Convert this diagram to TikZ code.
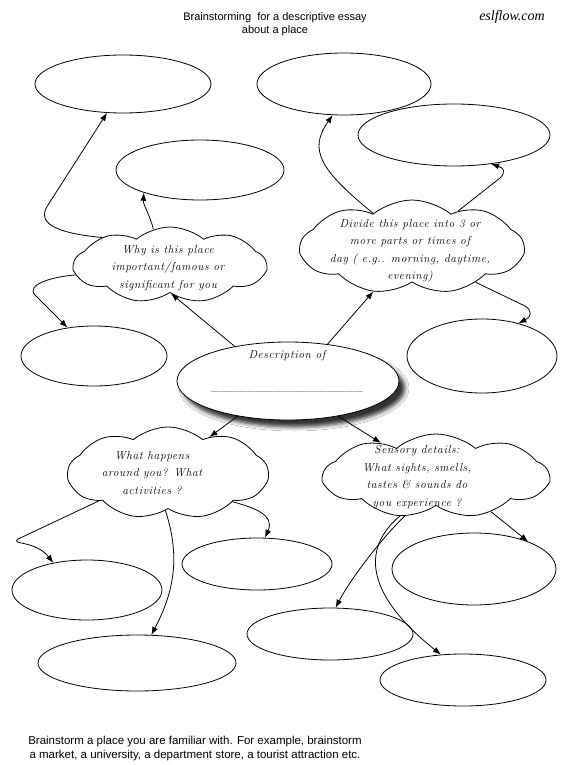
\documentclass[tikz,border=0pt]{standalone}
\usepackage{fontspec}
\setmainfont{Liberation Sans}
\newfontfamily\hand[LetterSpace=5]{Latin Modern Roman}
\newfontfamily\logofont{Liberation Serif}
\usetikzlibrary{shapes.geometric,shapes.symbols,arrows.meta,shadows.blur}
\begin{document}
\begin{tikzpicture}[x=1pt,y=-1pt,
  oval/.style={ellipse, draw, line width=0.8pt, fill=white, inner sep=0pt},
  cloudbox/.style={cloud, draw, line width=0.8pt, fill=white, cloud puffs=9, cloud puff arc=80, cloud ignores aspect, inner sep=0pt},
  handtext/.style={font=\hand\itshape\fontsize{11.5}{17.5}\selectfont, align=center, inner sep=0pt},
  conn/.style={line width=0.8pt, -{Latex[length=8pt,width=6pt]}},
]
\fill[white] (0,0) rectangle (568,765);
\useasboundingbox (0,0) rectangle (568,765);

% titles
\node[font=\fontsize{11}{13.5}\selectfont, align=center] (title) at (275,24) {Brainstorming\ \ for a descriptive essay\\about a place};
\node[font=\logofont\itshape\fontsize{14}{16}\selectfont] (logo) at (512,17) {eslflow.com};
\node[font=\fontsize{11.5}{14}\selectfont, align=center] (note) at (195,749) {Brainstorm a place you are familiar with. For example, brainstorm\\ a market, a university, a department store, a tourist attraction etc.};

% answer ovals
\node[oval, minimum width=176pt, minimum height=58pt] (e1) at (123,84) {};
\node[oval, minimum width=174pt, minimum height=62pt] (e2) at (344,84) {};
\node[oval, minimum width=168pt, minimum height=60pt] (e3) at (200,170) {};
\node[oval, minimum width=192pt, minimum height=62pt] (e4) at (454,135) {};
\node[oval, minimum width=146pt, minimum height=60pt] (e5) at (94,356) {};
\node[oval, minimum width=150pt, minimum height=74pt] (e6) at (482,356) {};
\node[oval, minimum width=150pt, minimum height=60pt] (e8) at (87,590) {};
\node[oval, minimum width=150pt, minimum height=52pt] (e9) at (257,564) {};
\node[oval, minimum width=198pt, minimum height=56pt] (e10) at (137,663) {};
\node[oval, minimum width=164pt, minimum height=72pt] (e11) at (474,569) {};
\node[oval, minimum width=166pt, minimum height=52pt] (e12) at (330,634) {};
\node[oval, minimum width=166pt, minimum height=52pt] (e13) at (463,680) {};

% central oval
\node[oval, minimum width=222pt, minimum height=78pt,
  blur shadow={shadow xshift=6pt, shadow yshift=-7pt, shadow blur radius=4pt, shadow opacity=80}] (ctr) at (288,381) {};
\node[handtext] (ctrtext) at (287,356) {Description of};
\node[handtext] (ctrline) at (287,391) {\_\_\_\_\_\_\_\_\_\_\_\_\_\_\_\_\_};

% clouds
\node[cloudbox, minimum width=192pt, minimum height=76pt] (cA) at (170,265) {};
\node[handtext] (tA) at (168,268) {Why is this place\\important/famous or\\significant for you};
\node[cloudbox, minimum width=223pt, minimum height=94pt] (cB) at (412,247) {};
\node[handtext] (tB) at (410,251) {Divide this place into 3 or\\more parts or times of\\day ( e.g.. morning, daytime,\\evening)};
\node[cloudbox, minimum width=200pt, minimum height=92pt] (cC) at (168,473) {};
\node[handtext] (tC) at (152,473) {What happens\\around you? What\\activities ?};
\node[cloudbox, minimum width=225pt, minimum height=84pt] (cD) at (436,476) {};
\node[handtext] (tD) at (417,477) {Sensory details:\\What sights, smells,\\tastes \& sounds do\\you experience ?};

% central connectors
\draw[conn] (ctr.147) -- (cA.272);
\draw[conn] (ctr.43) -- (cB.229);
\draw[conn] (ctr.215) -- (cC.41);
\draw[conn] (ctr.325) -- (cD.149);

% cloud A
\draw[conn] (cA.158) .. controls (55,233) and (36,223) .. (48,205) -- (e1.241);
\draw[conn] (cA.115) .. controls (150,215) and (143,205) .. (e3.202);
\draw[conn] (cA.186) .. controls (50,277) and (26,285) .. (35,295) -- (e5.133);

% cloud B
\draw[conn] (cB.139) .. controls (320,170) and (308,150) .. (e2.250);
\draw[conn] (cB.38) -- (500,178) .. controls (506,172) and (504,168) .. (e4.322);
\draw[conn] (cB.331) -- (525,306) .. controls (533,311) and (531,317) .. (e6.42);

% cloud C
\draw[conn] (cC.202) -- (18,539) .. controls (10,545) and (35,540) .. (e8.141);
\draw[conn] (cC.266) .. controls (180,555) and (175,590) .. (e10.63);
\draw[conn] (cC.336) .. controls (255,508) and (275,515) .. (e9.73);

% cloud D
\draw[conn] (cD.232) .. controls (380,540) and (350,580) .. (e12.78);
\draw[conn] (cD.228) .. controls (365,545) and (360,590) .. (e13.131);
\draw[conn] (cD.327) -- (e11.27);
\end{tikzpicture}
\end{document}
